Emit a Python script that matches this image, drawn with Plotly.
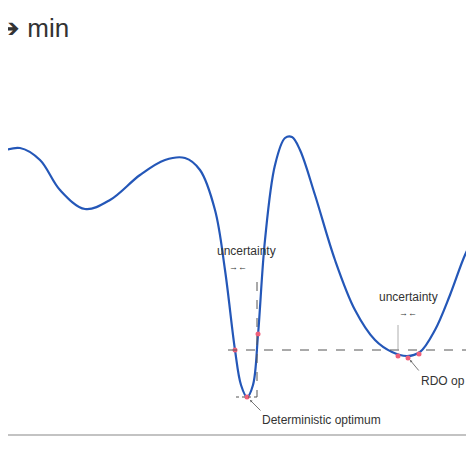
import plotly.graph_objects as go

curve_x = [0, 20, 40, 60, 85, 110, 140, 165, 185, 200, 215, 225, 235, 241, 247, 253, 258,
           265, 275, 285, 292, 300, 315, 335, 355, 375, 392, 407, 420, 435, 450, 465, 474]
curve_y = [152, 148, 160, 190, 209, 200, 175, 160, 158, 170, 210, 270, 350, 385, 397, 385, 335,
           240, 165, 138, 137, 150, 195, 260, 310, 340, 352, 356, 352, 330, 295, 255, 238]
pts_x = [235, 258, 247, 398, 408, 419]
pts_y = [350, 334, 397, 356, 358, 354]

fig = go.Figure()
fig.add_trace(go.Scatter(x=curve_x, y=curve_y, mode="lines", cliponaxis=False,
                         line=dict(color="#2457b8", width=2.2, shape="spline", smoothing=1.0)))
fig.add_trace(go.Scatter(x=pts_x, y=pts_y, mode="markers",
                         marker=dict(color="#f0607a", size=5)))

dash = dict(color="#555555", width=1, dash="dash")
fig.add_shape(type="line", x0=228, x1=474, y0=350, y1=350, line=dash)
fig.add_shape(type="line", x0=257, x1=257, y0=282, y1=397, line=dash)
fig.add_shape(type="line", x0=236, x1=257, y0=397, y1=397, line=dict(color="#555555", width=1, dash="dot"))
fig.add_shape(type="line", x0=398, x1=398, y0=325, y1=350, line=dict(color="#999999", width=0.8))
fig.add_shape(type="line", x0=0, x1=474, y0=435, y1=435, line=dict(color="#888888", width=1.2))

font = dict(family="Liberation Sans, Arial", size=12, color="#333333")
fig.add_annotation(x=246, y=251, text="uncertainty", showarrow=False, font=font)
fig.add_annotation(x=238, y=266, text="→←", showarrow=False, font=dict(size=9, color="#333333"))
fig.add_annotation(x=408, y=297, text="uncertainty", showarrow=False, font=font)
fig.add_annotation(x=408, y=312, text="→←", showarrow=False, font=dict(size=9, color="#333333"))
fig.add_annotation(x=260, y=420, text="Deterministic optimum", showarrow=False, xanchor="left", font=font)
fig.add_annotation(x=419, y=381, text="RDO op", showarrow=False, xanchor="left", font=font)
fig.add_annotation(x=250, y=400, ax=262, ay=412, axref="x", ayref="y", text="", showarrow=True,
                   arrowhead=2, arrowsize=0.6, arrowwidth=0.8, arrowcolor="#555555")
fig.add_annotation(x=410, y=360, ax=420, ay=372, axref="x", ayref="y", text="", showarrow=True,
                   arrowhead=2, arrowsize=0.6, arrowwidth=0.8, arrowcolor="#555555")
fig.add_annotation(x=0, xref="paper", y=28, text="➔ min", showarrow=False, xanchor="left",
                   xshift=-12, font=dict(family="Liberation Sans, Arial", size=26, color="#333333"))

# page has an 8px offset, so the plot starts at 8 and covers 466 px
fig.update_layout(width=466, height=466, margin=dict(l=0, r=0, t=0, b=0),
                  paper_bgcolor="white", plot_bgcolor="white", showlegend=False)
fig.update_xaxes(range=[8, 474], visible=False)
fig.update_yaxes(range=[474, 8], visible=False)
fig.write_html("out.html")
